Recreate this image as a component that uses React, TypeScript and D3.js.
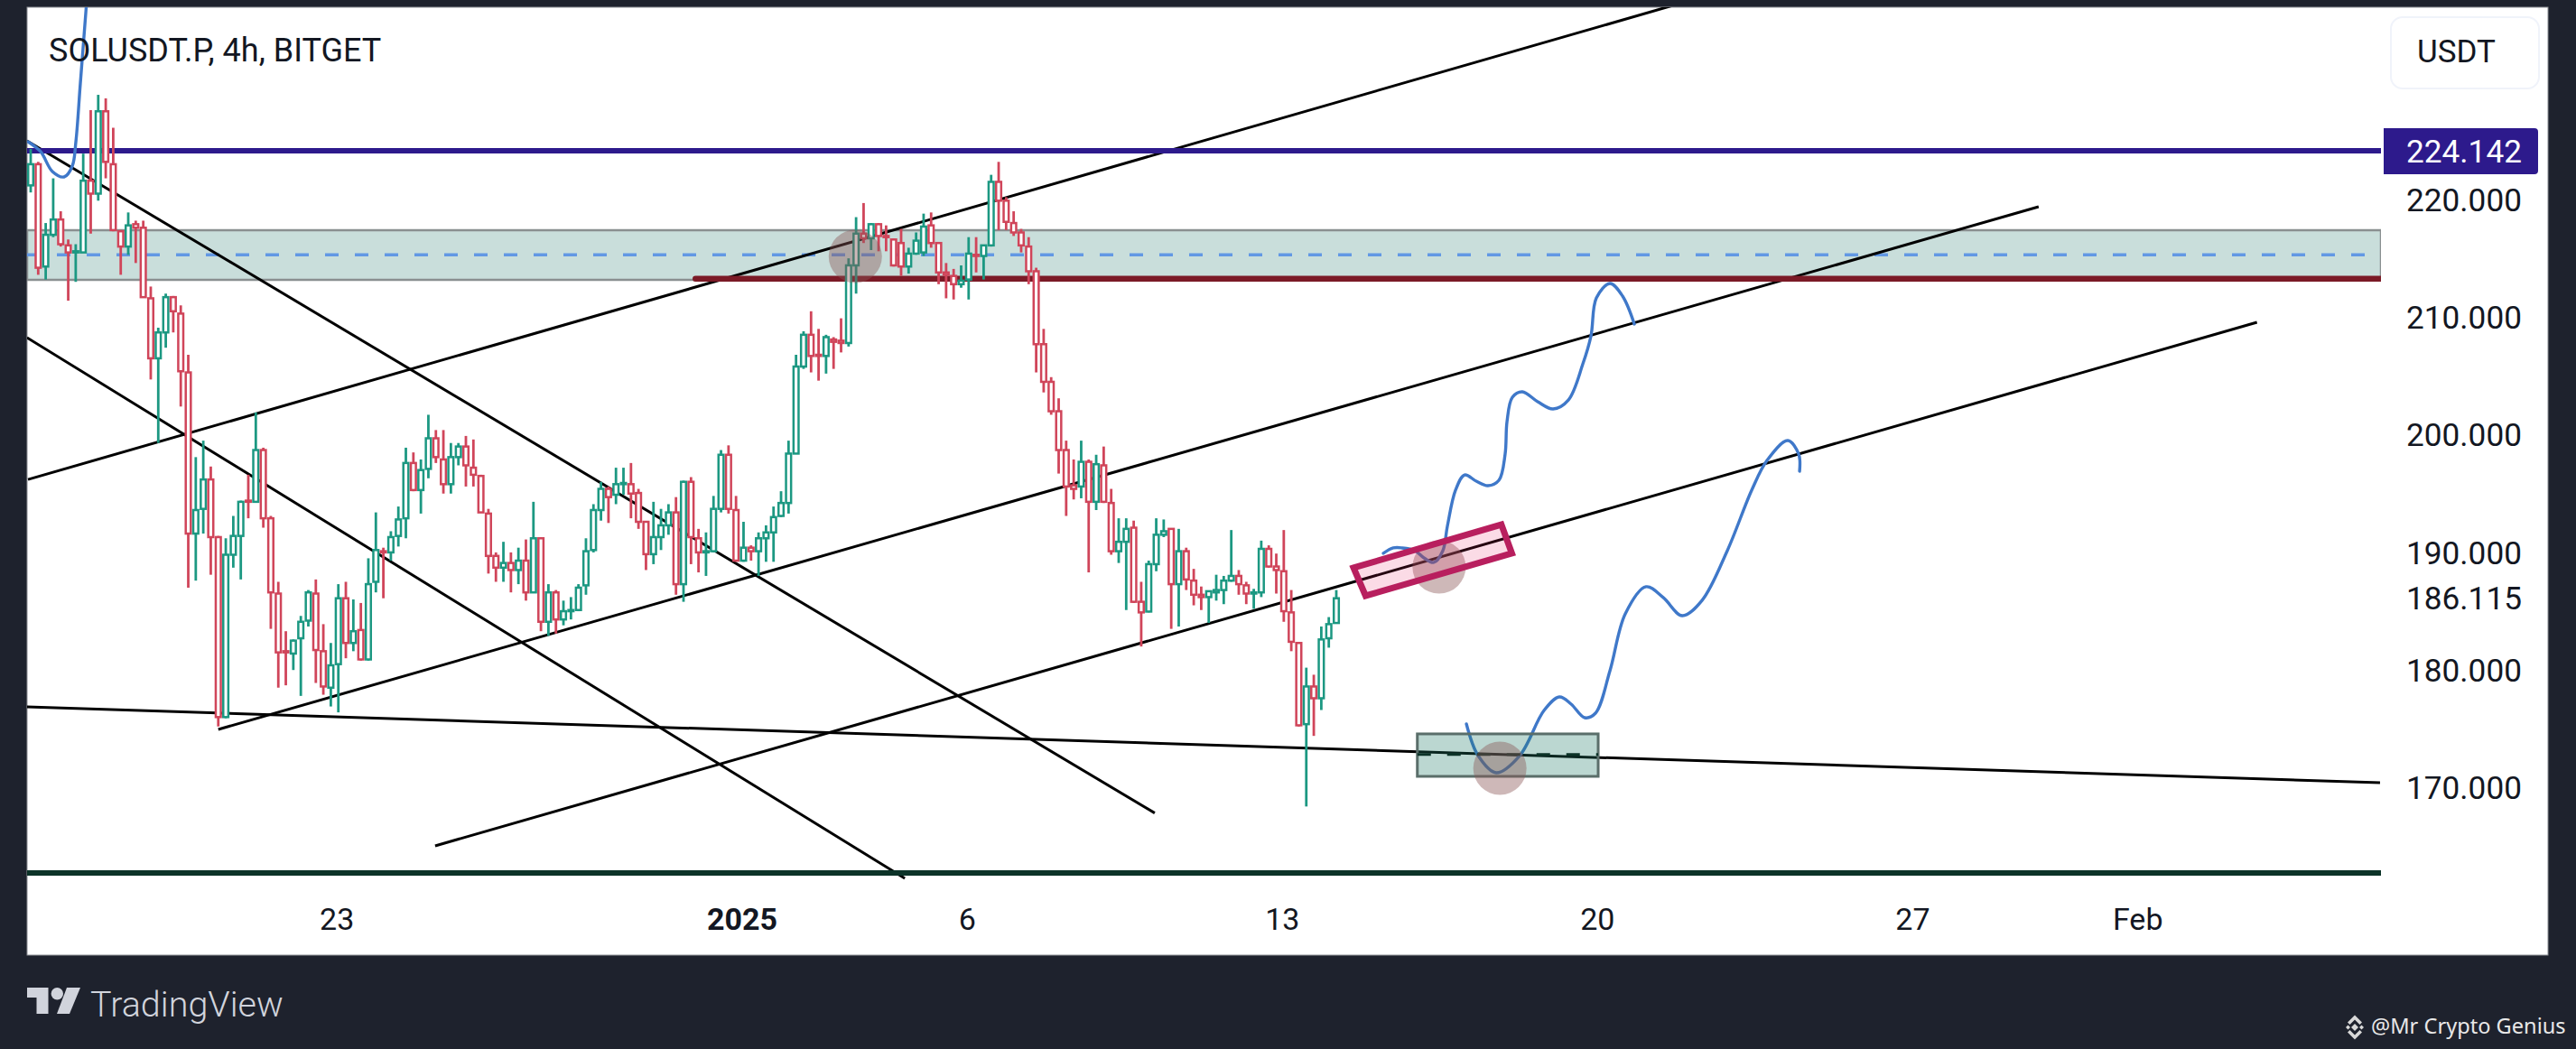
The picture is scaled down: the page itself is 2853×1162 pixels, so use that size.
import React, { useEffect, useRef } from 'react';
import * as d3 from 'd3';

const opens = [221.2,223.0,214.3,217.0,218.3,216.1,215.5,215.5,221.6,220.5,227.5,223.0,217.3,216.0,217.9,217.6,211.6,206.5,208.7,211.7,210.3,205.3,191.6,193.7,196.2,191.3,176.0,189.8,191.4,194.4,194.3,198.7,192.9,186.5,181.6,181.4,182.7,184.2,186.5,181.6,178.5,180.5,186.1,182.3,183.4,180.9,187.5,190.1,190.0,191.4,192.9,197.6,195.3,197.1,199.7,197.9,195.8,198.1,199.0,197.2,196.5,193.3,189.7,188.7,189.1,188.5,189.3,186.6,191.2,184.1,186.6,184.3,185.0,185.1,187.2,190.2,193.6,195.4,194.9,195.8,195.8,195.05,192.6,189.85,191.3,192.3,193.4,187.3,196.0,191.2,190.0,190.1,193.7,198.3,193.6,189.3,190.4,190.1,191.2,191.7,193.1,194.2,198.4,205.8,208.5,206.8,206.7,208.1,208.0,207.8,214.4,217.1,216.7,217.9,216.9,216.6,216.3,214.3,215.4,215.5,217.8,216.3,213.8,213.5,212.8,213.2,215.3,215.2,216.1,221.5,219.9,218.0,217.2,216.0,213.9,207.7,204.5,202.0,198.7,195.7,195.6,197.7,194.3,197.4,194.2,190.1,190.9,192.1,185.8,184.97,189.0,191.5,192.0,187.3,190.1,187.6,186.4,186.2,186.6,186.8,187.6,188.0,187.2,186.5,186.6,190.3,188.8,188.4,184.9,182.3,175.4,178.6,177.6,182.7,184.0];
const highs = [224.3,223.2,218.0,221.8,219.0,216.6,216.2,223.9,227.6,228.9,228.6,226.1,217.4,218.9,218.2,218.2,212.6,209.1,212.0,211.8,211.0,206.8,198.1,199.5,197.3,191.4,191.2,193.1,194.4,196.6,201.9,198.9,193.1,187.5,183.3,182.6,184.6,186.8,187.7,183.9,182.3,187.3,187.5,186.0,185.7,189.5,193.4,190.4,191.8,193.9,198.9,198.5,197.9,201.7,200.4,200.4,199.3,199.3,199.9,199.6,196.6,193.7,190.0,190.9,190.0,190.4,191.1,194.3,191.3,187.3,186.8,185.9,186.2,187.3,191.2,194.1,196.0,195.6,197.2,197.2,197.6,195.4,192.6,194.3,193.7,194.1,194.7,196.1,196.4,192.0,191.7,194.8,198.7,199.1,194.8,192.6,190.6,191.7,192.3,193.9,195.2,199.5,206.8,208.8,210.5,209.0,208.5,208.3,209.9,215.0,218.5,219.7,218.0,218.0,217.8,216.7,217.5,215.9,217.2,218.8,218.9,216.3,214.6,214.1,214.4,216.8,216.8,216.1,222.1,223.2,220.2,219.0,217.5,216.8,214.2,209.0,204.9,203.1,199.5,197.9,199.5,197.9,198.3,199.0,195.4,192.9,192.9,192.7,187.5,189.3,192.9,192.8,192.0,192.0,190.4,188.6,187.1,186.7,188.1,188.0,191.9,188.5,187.5,186.9,191.0,190.6,189.9,191.9,186.8,182.3,180.2,179.6,183.7,184.5,186.8];
const lows = [220.6,213.6,213.2,216.8,216.0,211.4,213.0,215.5,217.1,219.9,221.8,217.3,213.6,215.3,214.6,211.7,204.7,199.3,207.4,208.7,202.4,187.0,187.6,191.6,188.1,175.2,175.9,188.7,187.7,192.9,194.3,192.1,183.5,178.5,178.7,180.0,177.8,183.7,178.9,177.9,176.9,176.4,181.0,181.6,180.8,180.8,186.6,186.1,189.3,190.5,191.2,195.2,193.3,196.3,197.6,195.0,195.0,197.4,195.6,195.6,193.4,188.2,187.5,187.5,186.6,187.3,185.9,186.6,183.3,182.9,183.1,183.8,184.3,185.0,186.4,190.0,192.7,192.5,194.1,194.9,192.9,192.0,188.5,189.0,190.2,191.5,186.4,185.8,189.0,188.3,188.0,190.0,193.4,193.3,189.2,189.2,189.3,188.0,189.2,189.2,193.0,193.3,198.4,205.6,205.3,204.6,205.2,205.6,207.0,207.5,212.0,216.3,215.7,215.6,215.6,214.3,213.5,213.7,215.3,215.2,215.9,212.8,211.6,211.5,212.5,211.5,213.8,213.2,216.0,217.4,217.4,216.9,215.5,212.8,205.3,203.6,201.7,196.7,193.1,194.5,194.6,188.3,193.6,194.2,189.8,189.1,185.1,185.7,182.0,184.9,188.4,191.3,183.5,183.7,186.8,185.5,185.1,184.0,185.9,185.6,187.5,186.4,185.6,185.2,186.2,188.7,186.5,184.1,181.6,175.2,168.4,174.4,176.6,181.9,184.0];
const closes = [223.0,214.2,217.0,218.3,216.2,215.5,215.6,221.6,220.5,227.5,223.2,217.4,216.0,217.8,217.6,211.7,206.5,208.7,211.7,210.5,205.4,191.6,193.6,196.2,191.3,176.0,189.8,191.4,194.3,194.3,198.7,192.9,186.6,181.5,181.5,182.5,184.1,186.6,181.7,178.6,180.4,186.1,182.3,183.3,180.9,187.3,190.2,190.0,191.3,192.8,197.6,195.3,197.0,199.7,198.1,195.8,198.1,199.0,197.4,196.6,193.4,189.7,188.7,189.1,188.5,189.3,186.6,191.2,184.1,186.6,184.3,185.0,185.1,187.0,190.1,193.6,195.4,194.7,195.8,195.9,195.0,192.6,189.85,191.3,192.3,193.4,187.3,196.0,191.3,190.0,190.1,193.7,198.3,193.7,189.3,190.4,190.1,191.2,191.7,193.0,194.2,198.4,205.8,208.5,206.7,206.7,208.3,207.9,207.8,214.4,217.1,216.7,217.9,216.9,216.8,214.4,214.3,215.4,216.5,217.7,216.3,213.8,213.6,212.8,213.1,215.4,215.2,216.1,221.5,219.9,218.1,217.2,216.1,213.9,207.7,204.5,202.0,198.7,195.6,195.4,197.7,194.3,197.5,194.3,190.1,190.9,192.0,185.8,184.9,189.0,191.5,191.8,187.3,190.1,187.7,186.4,186.2,186.7,186.8,187.6,188.0,187.3,186.5,186.6,190.3,188.8,188.5,185.0,182.4,175.3,178.6,177.6,182.6,183.9,186.1];

const firstBar = Date.UTC(2024, 11, 16, 4);
const barHours = 4;
const barTime = (k: number) => new Date(firstBar + k * barHours * 3600 * 1000);

const priceTicks = [220, 210, 200, 190, 186.115, 180, 170];
const timeTicks = [
  Date.UTC(2024, 11, 23),
  Date.UTC(2025, 0, 1),
  Date.UTC(2025, 0, 6),
  Date.UTC(2025, 0, 13),
  Date.UTC(2025, 0, 20),
  Date.UTC(2025, 0, 27),
  Date.UTC(2025, 1, 1),
];
const timeLabels = ['23', '2025', '6', '13', '20', '27', 'Feb'];

const lastPrice = 224.142;
const zoneTop = 217.39;
const zoneMid = 215.3;
const zoneBottom = 213.17;
const resistance = 213.27;
const resistanceFrom = 88.6;
const floorPrice = 162.75;

// drawings, as [bar number, price]
const trendLines = [
  [[-0.36, 196.2], [219.3, 236.58]],
  [[25.0, 174.95], [267.6, 219.39]],
  [[53.9, 165.05], [296.7, 209.56]],
  [[-0.5, 224.99], [149.8, 167.84]],
  [[-0.5, 208.26], [116.5, 162.29]],
  [[-0.5, 176.87], [313.1, 170.42]],
];
const pathOld = [[7.4, 236.35], [6.62, 229.9], [6.02, 224.91], [5.54, 222.84], [4.45, 221.92], [2.89, 222.38], [1.32, 224.07], [-0.36, 224.91]];
const pathUpper = [[180.27, 189.92], [181.59, 190.38], [182.79, 190.38], [184.48, 190.15], [185.68, 189.53], [187.0, 189.15], [188.2, 190.15], [188.8, 192.22], [189.89, 195.29], [191.1, 196.59], [192.66, 196.05], [194.2, 195.67], [195.67, 196.13], [196.5, 198.36], [196.75, 201.12], [197.47, 203.19], [198.8, 203.65], [200.84, 202.81], [202.89, 202.2], [204.93, 202.96], [206.86, 206.03], [207.94, 208.41], [208.66, 211.63], [210.47, 212.86], [212.15, 211.79], [213.72, 209.41]];
const pathLower = [[191.34, 175.41], [192.9, 172.72], [195.31, 171.27], [198.44, 172.72], [201.68, 176.56], [203.73, 177.71], [205.3, 177.1], [207.1, 175.95], [208.54, 176.33], [210.47, 179.94], [212.51, 184.77], [215.28, 187.08], [217.57, 186.16], [220.1, 184.62], [222.74, 185.92], [226.11, 190.15], [229.36, 195.29], [231.4, 197.82], [234.17, 199.51], [235.62, 198.36], [235.74, 196.9]];
const circles = [[109.9, 215.17], [187.7, 188.76], [195.8, 171.65]];
const pinkBox = [[176.3, 188.69], [196.0, 192.37], [197.4, 189.92], [177.9, 186.31]];
const greenBox = { from: 184.8, to: 208.9, top: 174.57, bottom: 170.96, mid: 172.83 };

const W = 2853;
const H = 1162;
const UP = '#1c9882';
const DOWN = '#d0455a';
const FONT = 'Roboto, sans-serif';

export default function App() {
  const ref = useRef<SVGSVGElement>(null);

  useEffect(() => {
    if (!ref.current) return;
    const svg = d3.select(ref.current);
    svg.selectAll('*').remove();

    const plot = { left: 30, right: 2822, top: 8, bottom: 1058, drawRight: 2637 };
    const x = d3.scaleUtc().domain([barTime(0), barTime(174)]).range([34, 1480]);
    const y = d3.scaleLinear().domain([220, 170]).range([221, 872.5]);
    const at = (d: number[]): [number, number] => [x(barTime(d[0])), y(d[1])];

    svg.append('rect').attr('width', W).attr('height', H).attr('fill', '#1e222d');
    svg.append('rect')
      .attr('x', plot.left).attr('y', plot.top)
      .attr('width', plot.right - plot.left).attr('height', plot.bottom - plot.top)
      .attr('fill', '#ffffff').attr('stroke', '#8b8e94').attr('stroke-width', 1);

    svg.append('clipPath').attr('id', 'draw-area').append('rect')
      .attr('x', plot.left).attr('y', plot.top)
      .attr('width', plot.drawRight - plot.left).attr('height', plot.bottom - plot.top);

    const under = svg.append('g').attr('clip-path', 'url(#draw-area)');

    // zone
    under.append('rect')
      .attr('x', plot.left).attr('width', plot.drawRight - plot.left)
      .attr('y', y(zoneTop)).attr('height', y(zoneBottom) - y(zoneTop))
      .attr('fill', '#c9dedb').attr('stroke', '#8a8f90').attr('stroke-width', 2.5);
    under.append('line')
      .attr('x1', plot.left).attr('x2', plot.drawRight)
      .attr('y1', y(zoneMid)).attr('y2', y(zoneMid))
      .attr('stroke', '#6298e4').attr('stroke-width', 3.4).attr('stroke-dasharray', '15 18');

    // trend lines
    under.selectAll('.trend').data(trendLines).enter().append('line')
      .attr('class', 'trend')
      .attr('x1', d => at(d[0])[0]).attr('y1', d => at(d[0])[1])
      .attr('x2', d => at(d[1])[0]).attr('y2', d => at(d[1])[1])
      .attr('stroke', '#000000').attr('stroke-width', 3);

    // horizontal levels
    under.append('line')
      .attr('x1', plot.left).attr('x2', plot.drawRight)
      .attr('y1', y(lastPrice)).attr('y2', y(lastPrice))
      .attr('stroke', '#2d1a8c').attr('stroke-width', 6);
    under.append('line')
      .attr('x1', x(barTime(resistanceFrom))).attr('x2', plot.drawRight + 10)
      .attr('y1', y(resistance)).attr('y2', y(resistance))
      .attr('stroke', '#7b1a26').attr('stroke-width', 6.5).attr('stroke-linecap', 'round');
    under.append('line')
      .attr('x1', plot.left).attr('x2', plot.drawRight)
      .attr('y1', y(floorPrice)).attr('y2', y(floorPrice))
      .attr('stroke', '#0c3328').attr('stroke-width', 6);

    // candles
    const bars = d3.range(opens.length);
    const colour = (i: number) => (closes[i] >= opens[i] ? UP : DOWN);
    const candles = svg.append('g');
    candles.selectAll('.wick').data(bars).enter().append('line')
      .attr('class', 'wick')
      .attr('x1', i => x(barTime(i))).attr('x2', i => x(barTime(i)))
      .attr('y1', i => y(highs[i])).attr('y2', i => y(lows[i]))
      .attr('stroke', colour).attr('stroke-width', 2.8);
    candles.selectAll('.body').data(bars).enter().append('rect')
      .attr('class', 'body')
      .attr('x', i => x(barTime(i)) - 2.8)
      .attr('width', 5.6)
      .attr('y', i => y(Math.max(opens[i], closes[i])))
      .attr('height', i => Math.max(1, Math.abs(y(opens[i]) - y(closes[i]))))
      .attr('fill', '#ffffff').attr('stroke', colour).attr('stroke-width', 2.5);

    const over = svg.append('g').attr('clip-path', 'url(#draw-area)');

    // hand drawn paths
    const sketch = d3.line<number[]>().x(d => at(d)[0]).y(d => at(d)[1]).curve(d3.curveCatmullRom.alpha(0.5));
    over.selectAll('.sketch').data([pathOld, pathUpper, pathLower]).enter().append('path')
      .attr('class', 'sketch')
      .attr('d', d => sketch(d))
      .attr('fill', 'none').attr('stroke', '#3f78c9').attr('stroke-width', 3.4)
      .attr('stroke-linecap', 'round');

    // green box
    over.append('rect')
      .attr('x', x(barTime(greenBox.from))).attr('width', x(barTime(greenBox.to)) - x(barTime(greenBox.from)))
      .attr('y', y(greenBox.top)).attr('height', y(greenBox.bottom) - y(greenBox.top))
      .attr('fill', '#1f7a66').attr('fill-opacity', 0.3)
      .attr('stroke', '#5a6e6a').attr('stroke-width', 3);
    over.append('line')
      .attr('x1', x(barTime(greenBox.from))).attr('x2', x(barTime(greenBox.to)))
      .attr('y1', y(greenBox.mid)).attr('y2', y(greenBox.mid))
      .attr('stroke', '#0c3328').attr('stroke-width', 3).attr('stroke-dasharray', '15 18');

    // circles
    over.selectAll('.mark').data(circles).enter().append('circle')
      .attr('class', 'mark')
      .attr('cx', d => at(d)[0]).attr('cy', d => at(d)[1]).attr('r', 29.5)
      .attr('fill', '#8a5555').attr('fill-opacity', 0.42);

    // pink box
    over.append('polygon')
      .attr('points', pinkBox.map(d => at(d).join(',')).join(' '))
      .attr('fill', '#e91e63').attr('fill-opacity', 0.16)
      .attr('stroke', '#b81f5e').attr('stroke-width', 7).attr('stroke-linejoin', 'miter');

    // axes
    const yAxis = svg.append('g')
      .attr('transform', 'translate(2665,1)')
      .call(d3.axisRight(y).tickValues(priceTicks).tickSize(0).tickPadding(0).tickFormat(d3.format('.3f') as any));
    yAxis.select('.domain').remove();
    yAxis.selectAll('text').attr('font-family', FONT).attr('font-size', 35.2).attr('fill', '#131722');

    const xAxis = svg.append('g')
      .attr('transform', 'translate(-2,1018)')
      .call(d3.axisBottom(x).tickValues(timeTicks.map(t => new Date(t))).tickSize(0).tickPadding(0)
        .tickFormat((_d, i) => timeLabels[i]));
    xAxis.select('.domain').remove();
    xAxis.selectAll('text')
      .attr('y', 0).attr('dy', '0.35em')
      .attr('font-family', FONT).attr('font-size', 34).attr('fill', '#131722')
      .attr('font-weight', (_d, i) => (timeLabels[i] === '2025' ? 700 : 400));

    // last price tag
    svg.append('path')
      .attr('d', 'M2640,142H2807a4,4 0 0 1 4,4V189a4,4 0 0 1 -4,4H2640Z')
      .attr('fill', '#2d1a8c');
    svg.append('text')
      .attr('x', 2665).attr('y', y(lastPrice) + 1).attr('dy', '0.35em')
      .attr('font-family', FONT).attr('font-size', 35.2).attr('fill', '#ffffff')
      .text(lastPrice.toFixed(3));

    // currency box
    svg.append('rect')
      .attr('x', 2648).attr('y', 19).attr('width', 164).attr('height', 79).attr('rx', 13)
      .attr('fill', '#ffffff').attr('stroke', '#f0f3fa').attr('stroke-width', 2);
    svg.append('text')
      .attr('x', 2677).attr('y', 57).attr('dy', '0.35em')
      .attr('font-family', FONT).attr('font-size', 35).attr('fill', '#131722')
      .text('USDT');

    // title
    svg.append('text')
      .attr('x', 54).attr('y', 55).attr('dy', '0.35em')
      .attr('font-family', FONT).attr('font-size', 36).attr('fill', '#131722')
      .text('SOLUSDT.P, 4h, BITGET');

    // TradingView mark
    const logo = svg.append('g').attr('fill', '#d1d4dc');
    logo.append('path').attr('d', 'M30,1094H53.5V1123H40.5V1105H30Z');
    logo.append('circle').attr('cx', 63.3).attr('cy', 1100.7).attr('r', 6.7);
    logo.append('path').attr('d', 'M74,1094H89L77,1123H63Z');
    svg.append('text')
      .attr('x', 100).attr('y', 1112).attr('dy', '0.35em')
      .attr('font-family', FONT).attr('font-size', 39.5).attr('font-weight', 300).attr('fill', '#d1d4dc')
      .text('TradingView');

    // watermark
    const icon = svg.append('g').attr('transform', 'translate(2608,1138)').attr('fill', '#d9d9d9');
    icon.append('path').attr('d', 'M0,-4L4,0L0,4L-4,0Z');
    icon.append('path').attr('d', 'M-10,0L-7.5,-2.5L-5,0L-7.5,2.5Z');
    icon.append('path').attr('d', 'M10,0L7.5,-2.5L5,0L7.5,2.5Z');
    icon.append('path').attr('d', 'M0,-13.5L8,-5.5L5.5,-3L0,-8.5L-5.5,-3L-8,-5.5Z');
    icon.append('path').attr('d', 'M0,13.5L8,5.5L5.5,3L0,8.5L-5.5,3L-8,5.5Z');
    svg.append('text')
      .attr('x', 2626).attr('y', 1137).attr('dy', '0.35em')
      .attr('font-family', '"Noto Sans", sans-serif').attr('font-size', 23.6).attr('fill', '#e8e8e8')
      .text('@Mr Crypto Genius');
  }, []);

  return (
    <svg
      ref={ref}
      width={W}
      height={H}
      style={{ position: 'absolute', top: 0, left: 0, display: 'block' }}
    />
  );
}
